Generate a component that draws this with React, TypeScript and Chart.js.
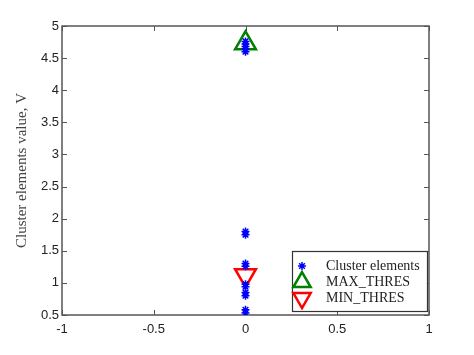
import React, { useEffect, useRef } from "react";
import { Chart, registerables } from "chart.js";

Chart.register(...registerables);

const clusterX = [0, 0, 0, 0, 0, 0, 0, 0, 0, 0, 0, 0, 0, 0, 0];
const clusterY = [4.76, 4.72, 4.68, 4.64, 4.6, 1.8, 1.75, 1.3, 1.26, 0.98, 0.94, 0.85, 0.8, 0.58, 0.53];
const maxThres = [{ x: 0, y: 4.73 }];
const minThres = [{ x: 0, y: 1.12 }];
const xTicks = [-1, -0.5, 0, 0.5, 1];
const yTicks = [0.5, 1, 1.5, 2, 2.5, 3, 3.5, 4, 4.5, 5];
const legendLabels = ["Cluster elements", "MAX_THRES", "MIN_THRES"];
const yTitle = "Cluster elements value, V";

const AXIS_COLOR = "#555555";

const boxPlugin = {
  id: "matlabBox",
  beforeDatasetsDraw(chart: any) {
    const { ctx, chartArea: a, scales } = chart;
    ctx.save();
    ctx.strokeStyle = AXIS_COLOR;
    ctx.lineWidth = 1.5;
    ctx.strokeRect(a.left, a.top, a.right - a.left, a.bottom - a.top);
    ctx.lineWidth = 1;
    const tl = 5;
    for (const v of xTicks) {
      const px = Math.round(scales.x.getPixelForValue(v)) + 0.5;
      ctx.beginPath();
      ctx.moveTo(px, a.bottom);
      ctx.lineTo(px, a.bottom - tl);
      ctx.moveTo(px, a.top);
      ctx.lineTo(px, a.top + tl);
      ctx.stroke();
    }
    for (const v of yTicks) {
      const py = Math.round(scales.y.getPixelForValue(v)) + 0.5;
      ctx.beginPath();
      ctx.moveTo(a.left, py);
      ctx.lineTo(a.left + tl, py);
      ctx.moveTo(a.right, py);
      ctx.lineTo(a.right - tl, py);
      ctx.stroke();
    }
    // y title
    ctx.fillStyle = "#444444";
    ctx.font = "15px 'Liberation Serif', 'DejaVu Serif', serif";
    ctx.textAlign = "center";
    ctx.textBaseline = "middle";
    ctx.translate(22, (a.top + a.bottom) / 2);
    ctx.rotate(-Math.PI / 2);
    ctx.fillText(yTitle, 0, 0);
    ctx.restore();
  },
  afterDraw(chart: any) {
    const { ctx, chartArea: a } = chart;
    const bx = 292, by = 251, bw = a.right - 2 - bx, bh = 60;
    ctx.save();
    ctx.fillStyle = "#ffffff";
    ctx.fillRect(bx, by, bw, bh);
    ctx.strokeStyle = "#333333";
    ctx.lineWidth = 1.2;
    ctx.strokeRect(bx + 0.5, by + 0.5, bw, bh);
    const rows = [266, 282, 298];
    const mx = 302;
    // star
    ctx.strokeStyle = "#0000ff";
    ctx.lineWidth = 1.5;
    const r = 4;
    ctx.beginPath();
    ctx.moveTo(mx - r, rows[0]); ctx.lineTo(mx + r, rows[0]);
    ctx.moveTo(mx, rows[0] - r); ctx.lineTo(mx, rows[0] + r);
    const d = r * 0.7071;
    ctx.moveTo(mx - d, rows[0] - d); ctx.lineTo(mx + d, rows[0] + d);
    ctx.moveTo(mx - d, rows[0] + d); ctx.lineTo(mx + d, rows[0] - d);
    ctx.stroke();
    // up triangle
    const tr = 10;
    ctx.lineWidth = 2.5;
    ctx.strokeStyle = "#008000";
    ctx.beginPath();
    ctx.moveTo(mx, rows[1] - tr);
    ctx.lineTo(mx + tr * 0.866, rows[1] + tr * 0.5);
    ctx.lineTo(mx - tr * 0.866, rows[1] + tr * 0.5);
    ctx.closePath();
    ctx.stroke();
    ctx.strokeStyle = "#ff0000";
    ctx.beginPath();
    ctx.moveTo(mx, rows[2] + tr);
    ctx.lineTo(mx + tr * 0.866, rows[2] - tr * 0.5);
    ctx.lineTo(mx - tr * 0.866, rows[2] - tr * 0.5);
    ctx.closePath();
    ctx.stroke();
    ctx.fillStyle = "#222222";
    ctx.font = "14px 'Liberation Serif', 'DejaVu Serif', serif";
    ctx.textAlign = "left";
    ctx.textBaseline = "middle";
    legendLabels.forEach((t, i) => ctx.fillText(t, 326, rows[i]));
    ctx.restore();
  },
};

const fmt = (v: any) => String(Number(v));

export default function App() {
  const ref = useRef<HTMLCanvasElement>(null);
  useEffect(() => {
    const canvas = ref.current!;
    const chart = new Chart(canvas, {
      type: "scatter",
      data: {
        datasets: [
          {
            label: legendLabels[0],
            data: clusterX.map((x, i) => ({ x, y: clusterY[i] })),
            pointStyle: "star",
            radius: 4,
            borderColor: "#0000ff",
            backgroundColor: "#0000ff",
            borderWidth: 1.5,
          },
          {
            label: legendLabels[1],
            data: maxThres,
            pointStyle: "triangle",
            radius: 12,
            borderColor: "#008000",
            backgroundColor: "rgba(0,0,0,0)",
            borderWidth: 2.5,
          },
          {
            label: legendLabels[2],
            data: minThres,
            pointStyle: "triangle",
            rotation: 180,
            radius: 12,
            borderColor: "#ff0000",
            backgroundColor: "rgba(0,0,0,0)",
            borderWidth: 2.5,
          },
        ],
      },
      options: {
        animation: false,
        responsive: false,
        maintainAspectRatio: false,
        events: [],
        layout: { padding: { top: 26, right: 45, left: 0, bottom: 0 } },
        plugins: { legend: { display: false }, tooltip: { enabled: false } },
        scales: {
          x: {
            type: "linear",
            min: -1,
            max: 1,
            afterBuildTicks: (s: any) => {
              s.ticks = xTicks.map((v) => ({ value: v }));
            },
            afterFit: (s: any) => {
              s.height = 40;
            },
            grid: { display: false, drawTicks: false },
            border: { display: false },
            ticks: {
              padding: 7,
              color: "#222222",
              font: { family: "'Liberation Sans', Arial, sans-serif", size: 13 },
              maxRotation: 0,
              callback: fmt,
            },
          },
          y: {
            type: "linear",
            min: 0.5,
            max: 5,
            afterBuildTicks: (s: any) => {
              s.ticks = yTicks.map((v) => ({ value: v }));
            },
            afterFit: (s: any) => {
              s.width = 62;
            },
            grid: { display: false, drawTicks: false },
            border: { display: false },
            ticks: {
              padding: 3,
              color: "#222222",
              font: { family: "'Liberation Sans', Arial, sans-serif", size: 13 },
              callback: fmt,
            },
          },
        },
      },
      plugins: [boxPlugin],
    });
    return () => chart.destroy();
  }, []);
  return (
    <div style={{ position: "fixed", left: 0, top: 0, width: 474, height: 355, background: "#fff" }}>
      <canvas ref={ref} width={474} height={355} style={{ width: 474, height: 355, display: "block" }} />
    </div>
  );
}
